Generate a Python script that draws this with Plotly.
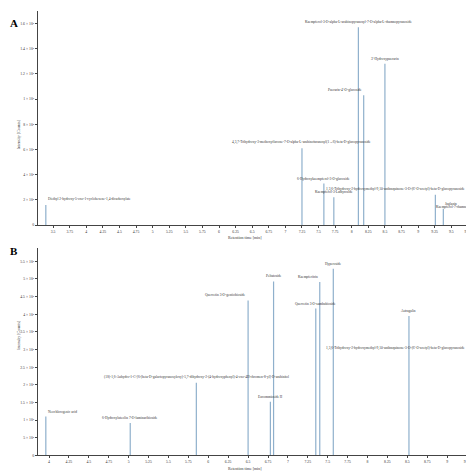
import plotly.graph_objects as go

# Panel A
a_rt = [3.39, 7.25, 7.58, 7.73, 8.10, 8.18, 8.50, 9.26, 9.38, 9.75]
a_int = [16000, 61000, 33000, 22000, 157000, 103000, 128000, 24000, 13000, 10000]
a_names = [
    "Diethyl 2-hydroxy-5-oxo-1-cyclohexene-1,4-dicarboxylate",
    "4,3,7-Trihydroxy-3-methoxyflavone-7-O-alpha-L-arabinofuranosyl(1→6)-beta-D-glucopyranoside",
    "6-Hydroxykaempferol-3-O-glucoside",
    "Kaempferol-3-Lathyroside",
    "Kaempferol-3-O-alpha-L-arabinopyranosyl-7-O-alpha-L-rhamnopyranoside",
    "Puerarin-4'-O-glucoside",
    "3'-Hydroxypuerarin",
    "1,3,6-Trihydroxy-2-hydroxymethyl-9,10-anthraquinone-3-O-(6'-O-acetyl)-beta-D-glucopyranoside",
    "Juglanin",
    "Kaempferol-7-rhamnoside",
]
a_anchor = ["left", "center", "center", "center", "center", "right", "center", "right", "left", "right"]
a_shift = [0, 0, 0, 0, 0, 0, 0, 32, 0, 8]

# Panel B
b_rt = [3.96, 5.02, 5.85, 6.50, 6.78, 6.82, 7.35, 7.40, 7.57, 8.52, 9.25]
b_int = [110000, 92000, 206000, 439000, 152000, 493000, 416000, 491000, 529000, 395000, 287000]
b_names = [
    "Neochlorogenic acid",
    "6-Hydroxyluteolin 7-O-laminaribioside",
    "(1S)-1,6-Anhydro-1-C-[6-(beta-D-galactopyranosyloxy)-5,7-dihydroxy-2-(4-hydroxyphenyl)-4-oxo-4H-chromen-8-yl]-D-arabinitol",
    "Quercetin 3-O-gentiobioside",
    "Eucommioside II",
    "Peltatoside",
    "Quercetin 3-O-sambubioside",
    "Kaempferitrin",
    "Hyperoside",
    "Astragalin",
    "1,3,6-Trihydroxy-2-hydroxymethyl-9,10-anthraquinone-3-O-(6'-O-acetyl)-beta-D-glucopyranoside",
]
b_anchor = ["left", "center", "center", "right", "center", "center", "center", "right", "center", "center", "right"]

a_yticks = [0, 20000, 40000, 60000, 80000, 100000, 120000, 140000, 160000]
a_ytext = ["0", "2 × 10⁴", "4 × 10⁴", "6 × 10⁴", "8 × 10⁴", "1 × 10⁵", "1.2 × 10⁵", "1.4 × 10⁵", "1.6 × 10⁵"]
a_xticks = [3.5 + 0.25 * i for i in range(26)]
b_yticks = [0] + [50000 * i for i in range(1, 12)]
b_ytext = ["0", "5 × 10⁴", "1 × 10⁵", "1.5 × 10⁵", "2 × 10⁵", "2.5 × 10⁵", "3 × 10⁵",
           "3.5 × 10⁵", "4 × 10⁵", "4.5 × 10⁵", "5 × 10⁵", "5.5 × 10⁵"]
b_xticks = [4 + 0.25 * i for i in range(22)]

fig = go.Figure()
col = "#8fb0cc"
FONT = "Liberation Serif"

def stems(xs, ys, xa, ya):
    xx, yy = [], []
    for x, y in zip(xs, ys):
        xx += [x, x, None]
        yy += [0, y, None]
    fig.add_trace(go.Scatter(x=xx, y=yy, mode="lines", line=dict(color=col, width=1.2),
                             xaxis=xa, yaxis=ya, showlegend=False, hoverinfo="skip"))

stems(a_rt, a_int, "x", "y")
stems(b_rt, b_int, "x2", "y2")

ann = []
for x, y, n, an, sh in zip(a_rt, a_int, a_names, a_anchor, a_shift):
    ann.append(dict(x=x, y=y, xref="x", yref="y", text=n, showarrow=False, xanchor=an, xshift=sh,
                    yanchor="bottom", yshift=1, font=dict(size=3.5, family=FONT, color="#333")))
for x, y, n, an in zip(b_rt, b_int, b_names, b_anchor):
    ann.append(dict(x=x, y=y, xref="x2", yref="y2", text=n, showarrow=False, xanchor=an,
                    yanchor="bottom", yshift=1, font=dict(size=3.5, family=FONT, color="#333")))
for lab, yy in [("A", 0.985), ("B", 0.505)]:
    ann.append(dict(x=0.0, y=yy, xref="paper", yref="paper", text=f"<b>{lab}</b>", showarrow=False,
                    xanchor="left", yanchor="top", font=dict(size=11, family=FONT, color="black")))
for ty in [0.77, 0.275]:
    ann.append(dict(x=0.012, y=ty, xref="paper", yref="paper", text="Intensity [Counts]", textangle=-90,
                    showarrow=False, font=dict(size=4, family=FONT, color="#333")))
for ty in [0.516, 0.022]:
    ann.append(dict(x=0.5, y=ty, xref="paper", yref="paper", text="Retention time [min]", showarrow=False,
                    borderpad=0, font=dict(size=4, family=FONT, color="#333")))

ax = dict(showgrid=False, zeroline=False, showline=True, linecolor="#444", linewidth=0.8,
          ticks="outside", ticklen=2, tickcolor="#444", tickfont=dict(size=3.8, family=FONT, color="#333"),
          automargin=False)

fig.update_layout(
    width=474, height=474, margin=dict(l=0, r=0, t=0, b=0),
    paper_bgcolor="white", plot_bgcolor="white",
    xaxis=dict(ax, domain=[0.063, 0.987], range=[3.27, 9.87], anchor="y",
               tickvals=a_xticks, ticktext=[f"{v:g}" for v in a_xticks]),
    yaxis=dict(ax, domain=[0.542, 0.994], range=[0, 170000], anchor="x",
               tickvals=a_yticks, ticktext=a_ytext),
    xaxis2=dict(ax, domain=[0.063, 0.987], range=[3.86, 9.36], anchor="y2",
                tickvals=b_xticks, ticktext=[f"{v:g}" for v in b_xticks]),
    yaxis2=dict(ax, domain=[0.056, 0.494], range=[0, 588000], anchor="x2",
                tickvals=b_yticks, ticktext=b_ytext),
    annotations=ann,
)
fig.write_html("out.html")
